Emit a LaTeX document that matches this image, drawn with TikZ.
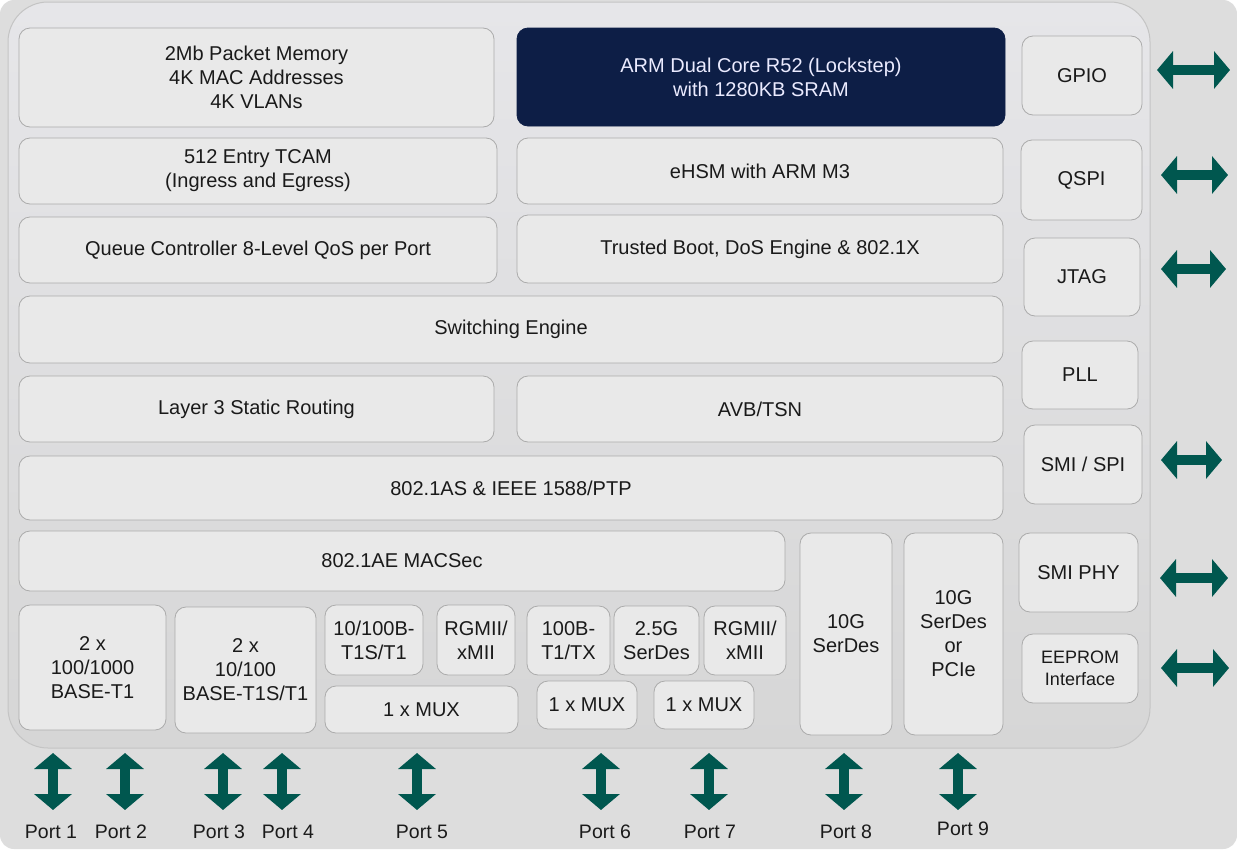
\documentclass[tikz,border=0pt]{standalone}
\usepackage{fontspec}
\setmainfont{Liberation Sans}
\usetikzlibrary{arrows.meta}
\definecolor{bgcol}{HTML}{DDDDDD}
\definecolor{chiptop}{HTML}{E6E6E9}
\definecolor{chipbot}{HTML}{D6D6D6}
\definecolor{chipline}{HTML}{C4C4C4}
\definecolor{boxfill}{HTML}{E9E9E9}
\definecolor{boxline}{HTML}{ABABAB}
\definecolor{txtcol}{HTML}{1A1A1A}
\definecolor{armfill}{HTML}{0D1E46}
\definecolor{teallink}{HTML}{00574F}

\begin{document}
\begin{tikzpicture}[x=1pt,y=-1pt,
    blk/.style={draw=boxline, fill=boxfill, line width=0.8pt, rounded corners=11pt,
      align=center, text=txtcol, inner sep=2pt, font=\fontsize{20}{24}\selectfont},
    link/.style={line width=10pt, draw=teallink,
      {Triangle[width=37pt,length=16pt]}-{Triangle[width=37pt,length=16pt]}},
    portlbl/.style={text=txtcol, font=\fontsize{19.5}{23}\selectfont}]
  \useasboundingbox (0,0) rectangle (1237,849);
  \fill[white] (0,0) rectangle (1237,849);
  \fill[bgcol, rounded corners=14pt] (0,0) rectangle (1237,849);
  % chip outline
  \draw[chipline, line width=1pt, top color=chiptop, bottom color=chipbot, rounded corners=40pt]
    (8,2) rectangle (1150,748);

  % upper blocks
  \node[blk, minimum width=475, minimum height=99] (pktmem) at (256.5,77.5) {2Mb Packet Memory\\4K MAC Addresses\\4K VLANs};
  \node[blk, minimum width=488, minimum height=98, fill=armfill, draw=armfill, text=white!92!blue] (arm) at (761,77) {ARM Dual Core R52 (Lockstep)\\with 1280KB SRAM};
  \node[blk, minimum width=478, minimum height=66] (tcam) at (258,171) {512 Entry TCAM\\(Ingress and Egress)};
  \node[blk, minimum width=486, minimum height=66] (ehsm) at (760,171) {eHSM with ARM M3};
  \node[blk, minimum width=478, minimum height=66] (queue) at (258,250) {Queue Controller 8-Level QoS per Port};
  \node[blk, minimum width=486, minimum height=68] (boot) at (760,249) {Trusted Boot, DoS Engine \& 802.1X};
  \node[blk, minimum width=984, minimum height=67] (swe) at (511,329.5) {Switching Engine};
  \node[blk, minimum width=475, minimum height=66] (lthree) at (256.5,409) {Layer 3 Static Routing};
  \node[blk, minimum width=486, minimum height=66] (avb) at (760,409) {AVB/TSN};
  \node[blk, minimum width=984, minimum height=64] (ptp) at (511,488) {802.1AS \& IEEE 1588/PTP};
  \node[blk, minimum width=766, minimum height=60] (macsec) at (402,561) {802.1AE MACSec};
  \node[blk, minimum width=92, minimum height=202] (serdesa) at (846,634) {10G\\SerDes};
  \node[blk, minimum width=99, minimum height=202] (serdesb) at (953.5,634) {10G\\SerDes\\or\\PCIe};

  % port interfaces
  \node[blk, minimum width=147, minimum height=125] (basea) at (92.5,667.5) {2 x\\100/1000\\BASE-T1};
  \node[blk, minimum width=141, minimum height=126] (baseb) at (245.5,670) {2 x\\10/100\\BASE-T1S/T1};
  \node[blk, minimum width=98, minimum height=70] (tones) at (374,640) {10/100B-\\T1S/T1};
  \node[blk, minimum width=78, minimum height=70] (rgmiia) at (476,640) {RGMII/\\xMII};
  \node[blk, minimum width=193, minimum height=47] (muxa) at (421.5,709.5) {1 x MUX};
  \node[blk, minimum width=83, minimum height=69] (tonetx) at (568.5,640.5) {100B-\\T1/TX};
  \node[blk, minimum width=85, minimum height=69] (sgmii) at (656.5,640.5) {2.5G\\SerDes};
  \node[blk, minimum width=82, minimum height=69] (rgmiib) at (745,640.5) {RGMII/\\xMII};
  \node[blk, minimum width=100, minimum height=48] (muxb) at (587,705) {1 x MUX};
  \node[blk, minimum width=100, minimum height=48] (muxc) at (704,705) {1 x MUX};

  % side interfaces
  \node[blk, minimum width=120, minimum height=79] (gpio) at (1082,75.5) {GPIO};
  \node[blk, minimum width=121, minimum height=80] (qspi) at (1081.5,180) {QSPI};
  \node[blk, minimum width=116, minimum height=78] (jtag) at (1082,277) {JTAG};
  \node[blk, minimum width=116, minimum height=68] (pll) at (1080,375) {PLL};
  \node[blk, minimum width=118, minimum height=79] (smispi) at (1083,464.5) {SMI / SPI};
  \node[blk, minimum width=119, minimum height=79] (smiphy) at (1078.5,572.5) {SMI PHY};
  \node[blk, minimum width=116, minimum height=69, font=\fontsize{18}{22}\selectfont] (eeprom) at (1080,668.5) {EEPROM\\Interface};

  % side arrows
  \draw[link] (1157,70) -- (1230,70);
  \draw[link] (1161,175) -- (1228,175);
  \draw[link] (1161,269) -- (1226,269);
  \draw[link] (1161,460) -- (1222,460);
  \draw[link] (1160,578) -- (1228,578);
  \draw[link] (1161,668) -- (1229,668);

  % ports
  \foreach \x/\lx/\ly/\n in {53/51/832/1,125/121/832/2,223/219/832/3,282/288/832/4,417/422/832/5,601/605/832/6,709/710/832/7,844/846/832/8,958/963/829/9}{
    \draw[link] (\x,753) -- (\x,810);
    \node[portlbl] (port\n) at (\lx,\ly) {Port \n};
  }
\end{tikzpicture}
\end{document}
